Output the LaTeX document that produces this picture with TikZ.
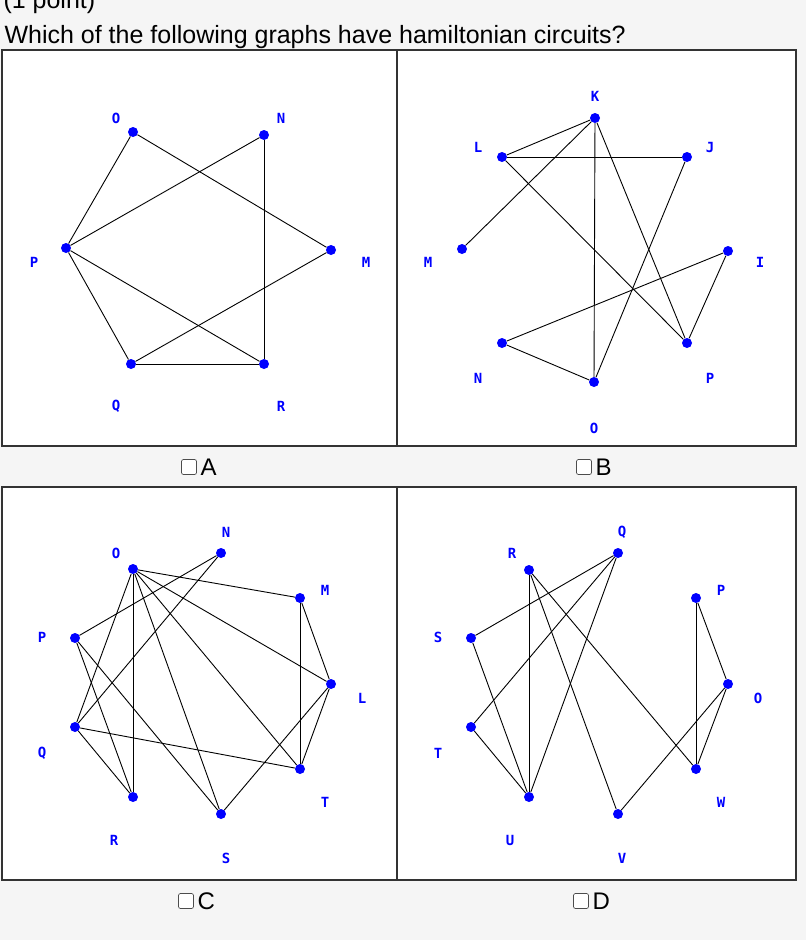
\documentclass[tikz,border=0pt]{standalone}
\usepackage{fontspec}
\setmainfont{Liberation Sans}
\newfontfamily\lblfont{DejaVu Sans Mono}
\begin{document}
\begin{tikzpicture}[x=1pt,y=-1pt,
  dot/.style={circle,fill=blue,inner sep=0pt,minimum size=10pt},
  lbl/.style={font=\lblfont\bfseries\fontsize{14}{14}\selectfont,text=blue},
  edge/.style={draw=black,line width=0.9pt},
  panel/.style={draw=black!80,line width=1.2pt,fill=white},
  chk/.style={draw=black!70,rounded corners=2pt,fill=white,line width=0.7pt,minimum size=15pt,inner sep=0pt},
  opt/.style={font=\fontsize{24}{24}\selectfont,anchor=west}]
\useasboundingbox (0,0) rectangle (806,940);
\fill[black!4] (0,0) rectangle (806,940);
\node[anchor=base west,font=\fontsize{25}{25}\selectfont] (pt) at (0,8) {(1 point)};
\node[anchor=base west,font=\fontsize{25}{25}\selectfont] (q) at (1,43) {Which of the following graphs have hamiltonian circuits?};
\draw[panel] (2,50) rectangle (397,446);
\draw[panel] (397,50) rectangle (796,446);
\draw[panel] (2,487) rectangle (397,880);
\draw[panel] (397,487) rectangle (796,880);
\node[chk] (cA) at (189,467) {}; \node[opt] (tA) at (197,467) {A};
\node[chk] (cB) at (584,467) {}; \node[opt] (tB) at (592,467) {B};
\node[chk] (cC) at (186,901) {}; \node[opt] (tC) at (194,901) {C};
\node[chk] (cD) at (581,901) {}; \node[opt] (tD) at (589,901) {D};
% Graph A
\foreach \n/\x/\y/\lx/\ly in {O/133/132/116/118, N/264/135/281/118, M/331/250/366/262, P/66/248/34/262, Q/131/364/116/406, R/264/364/281/406}{
  \node[dot] (a\n) at (\x,\y) {}; \node[lbl] (la\n) at (\lx,\ly) {\n};}
\foreach \u/\v in {O/P,O/M,P/N,P/R,P/Q,Q/M,Q/R,N/R}{\draw[edge] (a\u) -- (a\v);}
% Graph B
\foreach \n/\x/\y/\lx/\ly in {K/595/118/595/96, L/502/157/478/147, J/687/157/710/147, M/462/249/428/262, I/728/251/760/262, N/502/343/478/378, P/687/343/710/378, O/594/382/594/428}{
  \node[dot] (b\n) at (\x,\y) {}; \node[lbl] (lb\n) at (\lx,\ly) {\n};}
\foreach \u/\v in {K/L,K/M,K/O,K/P,L/J,L/P,J/O,I/N,I/P,N/O}{\draw[edge] (b\u) -- (b\v);}
% Graph C
\foreach \n/\x/\y/\lx/\ly in {O/133/569/116/553, N/221/553/226/532, M/300/598/325/590, P/75/638/42/637, L/331/684/362/698, Q/75/727/42/753, T/300/769/325/802, R/133/797/114/840, S/221/814/226/858}{
  \node[dot] (c\n) at (\x,\y) {}; \node[lbl] (lc\n) at (\lx,\ly) {\n};}
\foreach \u/\v in {O/M,O/L,O/T,O/S,O/R,O/Q,P/N,P/R,P/S,Q/N,Q/T,Q/R,M/T,M/L,L/T,L/S}{\draw[edge] (c\u) -- (c\v);}
% Graph D
\foreach \n/\x/\y/\lx/\ly in {Q/618/553/622/532, R/529/570/512/553, P/696/598/721/590, S/471/638/438/637, O/728/684/758/698, T/471/727/438/753, W/696/769/721/802, U/529/797/510/840, V/618/814/622/858}{
  \node[dot] (d\n) at (\x,\y) {}; \node[lbl] (ld\n) at (\lx,\ly) {\n};}
\foreach \u/\v in {Q/S,Q/T,Q/U,R/U,R/V,R/W,S/U,T/U,P/W,P/O,O/W,O/V}{\draw[edge] (d\u) -- (d\v);}
\end{tikzpicture}
\end{document}
